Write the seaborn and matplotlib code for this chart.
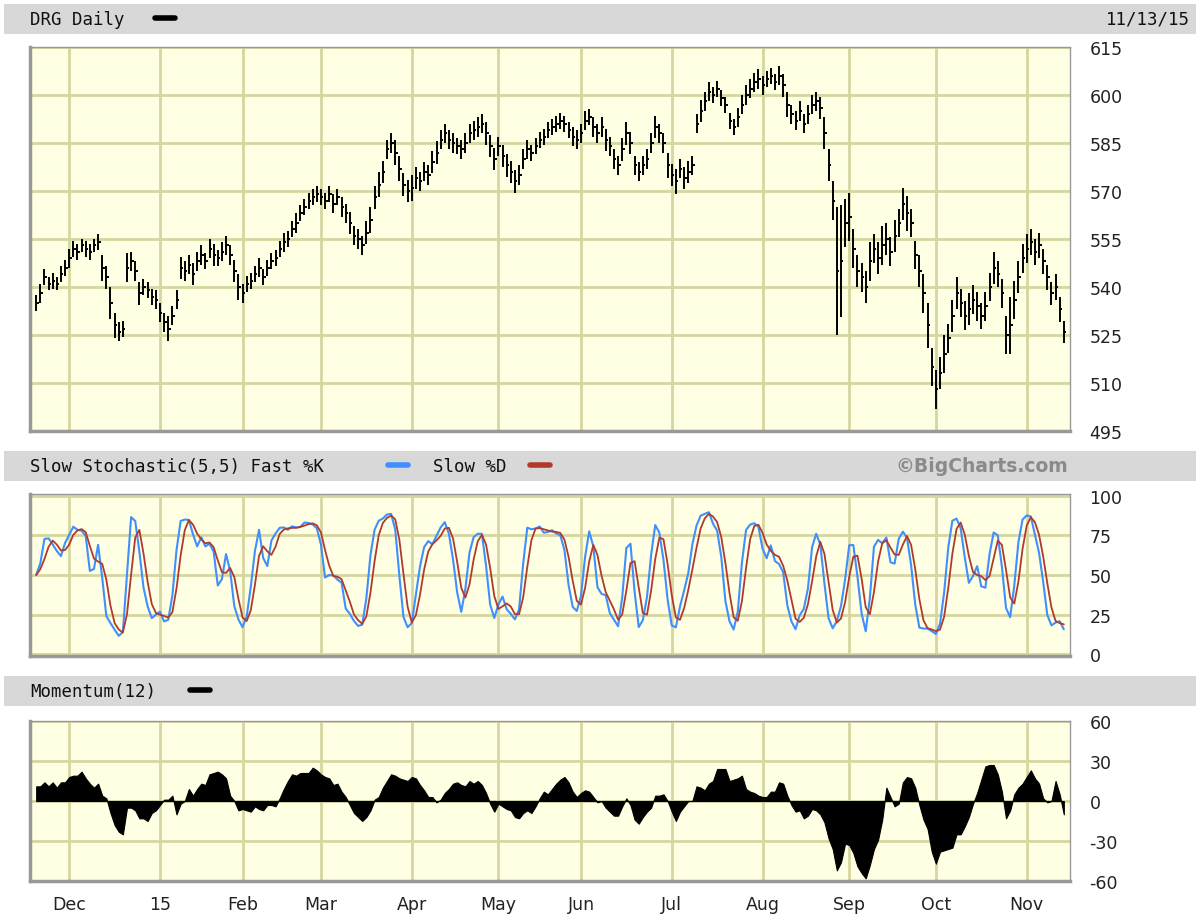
import numpy as np
import pandas as pd
import matplotlib
matplotlib.use("Agg")
import matplotlib.pyplot as plt
import seaborn as sns
from matplotlib.patches import Rectangle
from matplotlib.lines import Line2D

sns.set_style("white")
plt.rcParams['font.family'] = ['DejaVu Sans']
plt.rcParams['axes.unicode_minus'] = False

# ---- data ----
pre_closes = [524,527,529,530,528,531,530,532,531,533,532,531]
c_nov14 = [535,538,543,541,542,541,544,546]
c_dec = [549,552,551,553,552,551,553,554,546,543,535,528,526,527,546,548,545,538,540,539,537,536]
c_jan = [532,529,527,531,536,546,545,547,544,548,550,548,552,550,549,551,553,550,545,540]
c_feb = [538,541,542,544,546,543,546,548,549,552,554,555,558,560,563,565,567,568,569]
c_mar = [568,567,569,566,568,565,563,560,556,555,553,557,561,568,572,576,583,585,582,577,572,570]
c_apr = [571,574,573,576,575,579,582,586,588,586,585,584,583,585,588,589,590,591,588,584,580]
c_may = [584,581,578,576,573,575,580,583,582,584,586,587,589,590,591,592,591,589,587,586]
c_jun = [588,592,593,590,588,590,586,584,580,578,583,588,585,578,576,578,580,585,590,588,585,578]
c_jul = [575,573,577,574,576,578,591,595,598,601,600,602,599,597,592,590,593,597,600,602,604,605]
c_aug = [603,605,606,604,606,603,597,594,592,595,591,594,597,598,596,588,578,567,545,548,560]
c_sep = [562,552,545,543,540,548,552,549,553,555,551,556,560,566,563,560,550,545,538,528,515]
c_oct = [508,513,519,524,531,538,535,531,533,536,534,531,534,540,546,544,538,525,528,536,543,549]
c_nov15 = [552,554,551,553,548,543,538,540,533,526]

bar_range = ([5,6,5,4,5,4,5,5] +
             [6,5,5,4,5,5,4,5,8,7,10,8,6,5,9,6,6,7,5,5,5,6] +
             [6,6,8,6,6,7,6,6,7,6,6,5,6,7,5,6,6,6,7,8] +
             [6,5,5,5,6,5,5,5,5,5,6,5,5,6,5,5,5,5,5] +
             [5,5,5,6,5,6,6,7,6,6,6,7,8,7,8,7,6,6,8,8,7,7] +
             [8,7,6,6,6,7,7,6,6,6,6,5,6,6,6,6,6,6,7,7,7] +
             [6,7,7,7,7,6,6,6,5,5,5,5,5,5,5,5,5,5,6,6] +
             [6,6,5,6,6,6,7,6,6,6,7,7,7,6,6,6,6,6,7,6,6,8] +
             [7,8,6,7,7,6,6,7,6,6,5,5,5,5,5,5,6,6,6,6,6,6] +
             [6,5,5,5,6,7,8,6,6,6,6,6,6,6,7,10,10,12,40,35,15] +
             [15,12,10,9,10,12,9,10,12,10,9,10,9,10,11,9,9,10,12,14,12] +
             [12,10,12,9,10,10,9,9,10,9,9,8,9,9,10,8,9,12,18,12,10,9] +
             [9,8,8,8,8,8,7,8,8,7])

month_labels = ["Dec","15","Feb","Mar","Apr","May","Jun","Jul","Aug","Sep","Oct","Nov"]
month_start = [8,30,50,69,91,112,132,154,176,197,218,240]
price_ticks = [495,510,525,540,555,570,585,600,615]
stoch_ticks = [0,25,50,75,100]
mom_ticks = [-60,-30,0,30,60]

closes = np.array(c_nov14+c_dec+c_jan+c_feb+c_mar+c_apr+c_may+c_jun+c_jul+c_aug+c_sep+c_oct+c_nov15, float)
rng = np.array(bar_range[:len(closes)], float)
highs = closes + rng*0.5
lows = closes - rng*0.5
n = len(closes)
x = np.arange(n)

# indicators
hh = pd.Series(highs).rolling(5, min_periods=1).max()
ll = pd.Series(lows).rolling(5, min_periods=1).min()
fastk = ((pd.Series(closes)-ll)/(hh-ll)*100).rolling(2, min_periods=1).mean()
slowd = fastk.rolling(3, min_periods=1).mean()
allc = np.concatenate([pre_closes, closes])
mom = (allc[12:] - allc[:-12])

# ---- figure ----
W, H = 1200, 920
fig = plt.figure(figsize=(12, 9.2), dpi=100)
fig.patch.set_facecolor("white")
def fa(x0, y0, x1, y1):
    return [x0/W, 1-y1/H, (x1-x0)/W, (y1-y0)/H]

BG = "#ffffe3"
GRID = "#d6d6a0"
for (y0, y1) in [(5, 35), (452, 482), (677, 707)]:
    fig.patches.append(Rectangle((4/W, 1-y1/H), 1192/W, (y1-y0)/H, transform=fig.transFigure,
                                 facecolor="#d8d8d8", edgecolor="none", zorder=0))

def style(ax, ticks, ylim):
    ax.set_facecolor(BG)
    ax.set_xlim(-1.5, 250.5)
    ax.set_ylim(*ylim)
    ax.set_yticks(ticks)
    ax.yaxis.tick_right()
    ax.tick_params(axis='y', length=0, pad=14, labelsize=12.5, colors="#222222")
    ax.set_xticks(month_start)
    ax.tick_params(axis='x', length=0)
    ax.set_xticklabels([])
    ax.grid(True, color=GRID, linewidth=2)
    ax.set_axisbelow(True)
    for s in ax.spines.values():
        s.set_color("#999999"); s.set_linewidth(1)
    ax.spines['left'].set_linewidth(2.5); ax.spines['bottom'].set_linewidth(2.5)

ax1 = fig.add_axes(fa(30, 48, 1070, 432))
style(ax1, price_ticks, (495, 615))
ax1.vlines(x, lows, highs, color="black", linewidth=1.4)
ax1.hlines(closes, x, x+0.6, color="black", linewidth=1.4)

ax2 = fig.add_axes(fa(30, 495, 1070, 657))
style(ax2, stoch_ticks, (-1, 101))
df = pd.DataFrame({"x": x, "k": fastk.values, "d": slowd.values})
sns.lineplot(data=df, x="x", y="k", ax=ax2, color="#3f8fff", linewidth=1.5)
sns.lineplot(data=df, x="x", y="d", ax=ax2, color="#b03a2e", linewidth=1.3)
ax2.set_xlabel(""); ax2.set_ylabel("")

ax3 = fig.add_axes(fa(30, 722, 1070, 882))
style(ax3, mom_ticks, (-60, 60))
ax3.fill_between(x, 0, mom, color="black", linewidth=0.8)
ax3.set_xticklabels(month_labels)
ax3.tick_params(axis='x', labelsize=12.5, pad=10, colors="#222222")

mono = "DejaVu Sans Mono"
def hdr(txt, xp, yp, **kw):
    fig.text(xp/W, 1-yp/H, txt, fontsize=12.5, family=mono, va="center", color="#111111", **kw)
def dash(x0, yp, color):
    fig.add_artist(Line2D([x0/W, (x0+20)/W], [1-yp/H]*2, color=color, linewidth=4, transform=fig.transFigure))

hdr("DRG Daily", 30, 20); dash(155, 19, "black")
hdr("11/13/15", 1190, 20, ha="right")
hdr("Slow Stochastic(5,5) Fast %K", 30, 467); dash(388, 466, "#3f8fff")
hdr("Slow %D", 433, 467); dash(530, 466, "#b03a2e")
fig.text(1068/W, 1-467/H, "©BigCharts.com", fontsize=13.5, weight="bold", color="#8a8a8a", ha="right", va="center")
hdr("Momentum(12)", 30, 692); dash(190, 691, "black")

for ax in (ax1, ax2, ax3):
    ax.set_xlabel(""); ax.set_ylabel("")

fig.savefig("out.png", dpi=100, facecolor="white")
